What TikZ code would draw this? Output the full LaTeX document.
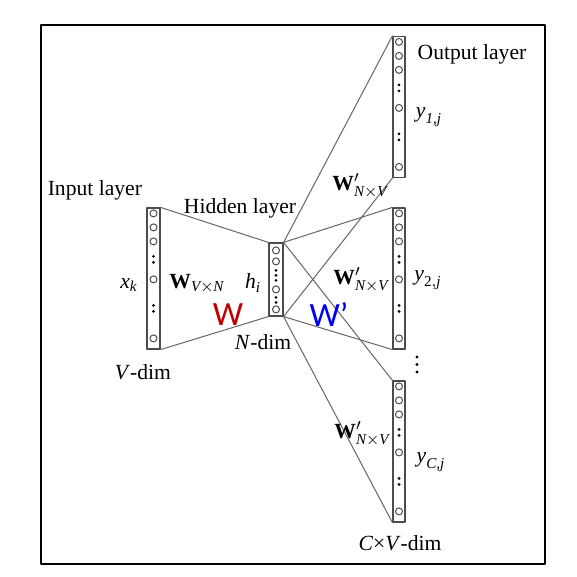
\documentclass[tikz,border=0pt]{standalone}
\usepackage{amsmath}
\usepackage{fontspec}
\setmainfont{Liberation Serif}
\newfontfamily\calibfont{Carlito}
\definecolor{wred}{HTML}{C00000}
\definecolor{wblue}{HTML}{0000F0}
\tikzset{
  layer/.style={draw=black!70, line width=0.6pt, minimum width=6pt, minimum height=70.5pt, inner sep=0pt},
  unit/.style={draw=black!70, line width=0.5pt},
  wire/.style={draw=black!60, line width=0.5pt},
  bigw/.style={font=\calibfont\fontsize{17}{17}\selectfont},
}
\begin{document}
\begin{tikzpicture}[line cap=round, line join=round, x=0.5pt, y=0.5pt, font=\fontsize{10.8}{12}\selectfont]

                \useasboundingbox (0,0) rectangle (577,577);
                \draw[line width=0.9pt] (41,13) rectangle (545,552);

                \node[layer, minimum width=6.5pt] (in) at (153.5,298.5) {};
                \node[layer, minimum width=7pt, minimum height=36.5pt] (hid) at (276,297.5) {};
                \node[layer] (outa) at (399,470) {};
                \node[layer] (outb) at (399,298.5) {};
                \node[layer] (outc) at (399,125.5) {};

                \draw[wire] (in.north east) -- (hid.north west);
                \draw[wire] (in.south east) -- (hid.south west);
                \foreach \o in {outa,outb,outc} {
                    \draw[wire] (hid.north east) -- (\o.north west);
                    \draw[wire] (hid.south east) -- (\o.south west);
                }

                \foreach \l in {in,outa,outb,outc} {
                    \foreach \d in {6,20,34,72,131}
                        \draw[unit] ([yshift=-\d*0.5pt]\l.north) circle (1.75pt);
                    \foreach \d in {49,55,98,104}
                        \fill ([yshift=-\d*0.5pt]\l.north) circle (0.8pt);
                }
                \foreach \d in {8,19,47,67}
                    \draw[unit] ([yshift=-\d*0.5pt]hid.north) circle (1.75pt);
                \foreach \d in {28,33,38,55,60}
                    \fill ([yshift=-\d*0.5pt]hid.north) circle (0.8pt);
                \foreach \d in {205,212.5,220}
                    \fill (417,\d) circle (0.8pt);

                \node[anchor=east] (inlab) at (149,387) {Input layer};
                \node (hidlab) at (240,369) {Hidden layer};
                \node (outlab) at (472,523) {Output layer};

                \node (xk) at (129,292) {$\textit{x}_{\textit{k}}$};
                \node (wvn) at (197,293) {$\textbf{W}_{\textit{V}\times\textit{N}}$};
                \node (hi) at (253,294) {$\textit{h}_{\textit{i}}$};
                \node (ndim) at (263,235) {\textit{N}-dim};
                \node (vdim) at (143,205) {\textit{V}-dim};

                \node[bigw, wred] (wa) at (228,262) {W};
                \node[bigw, wblue] (wb) at (329,262) {W’};

                \node (wnva) at (360,391) {$\textbf{W}'_{\textit{N}\times\textit{V}}$};
                \node (wnvb) at (361,297) {$\textbf{W}'_{\textit{N}\times\textit{V}}$};
                \node (wnvc) at (362,143) {$\textbf{W}'_{\textit{N}\times\textit{V}}$};

                \node (ya) at (429,460) {$\textit{y}_{\textit{1,j}}$};
                \node (yb) at (428,297) {$\textit{y}_{\text{2},\textit{j}}$};
                \node (yc) at (431,115) {$\textit{y}_{\textit{C,j}}$};
                \node (cvdim) at (400,34) {\textit{C}×\textit{V}-dim};

            \end{tikzpicture}
\end{document}
